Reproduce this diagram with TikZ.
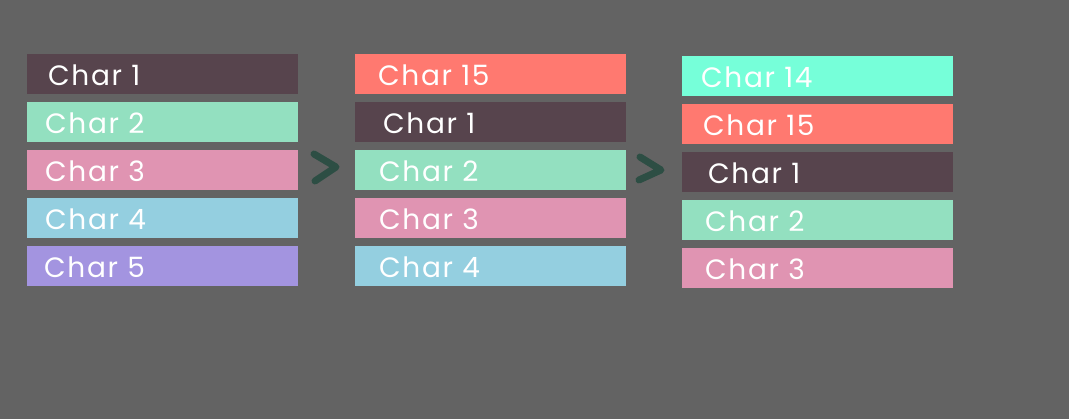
\documentclass[tikz,border=0pt]{standalone}
\usepackage{fontspec}
\setmainfont{Poppins}
\newfontfamily\handfont[LetterSpace=6]{Poppins}
\definecolor{bg}{HTML}{636363}
\definecolor{cdark}{HTML}{57444D}
\definecolor{cmint}{HTML}{93E0C0}
\definecolor{cpink}{HTML}{E094B2}
\definecolor{cblue}{HTML}{94CFE0}
\definecolor{cpurple}{HTML}{A394E0}
\definecolor{ccoral}{HTML}{FF7970}
\definecolor{caqua}{HTML}{76FFD9}
\definecolor{chev}{HTML}{2D4E44}
\tikzset{
  box/.style={rectangle, anchor=north west, minimum width=271pt, minimum height=40pt, inner sep=0pt, draw=none},
  lbl/.style={anchor=west, inner sep=0pt, text=white, font=\handfont\fontsize{28}{28}\selectfont},
  chevron/.style={draw=chev, line width=7pt, line cap=round, line join=round}
}
\begin{document}
\begin{tikzpicture}[x=1pt,y=-1pt]
\useasboundingbox[fill=bg] (0,0) rectangle (1069,419);
% column 1
\node[box, fill=cdark]   (a1) at (27,54)  {};
\node[box, fill=cmint]   (a2) at (27,102) {};
\node[box, fill=cpink]   (a3) at (27,150) {};
\node[box, fill=cblue]   (a4) at (27,198) {};
\node[box, fill=cpurple] (a5) at (27,246) {};
\node[lbl] (ta1) at ([xshift=21pt,yshift=-1pt]a1.west) {Char 1};
\node[lbl] (ta2) at ([xshift=18pt,yshift=-1pt]a2.west) {Char 2};
\node[lbl] (ta3) at ([xshift=18pt,yshift=-1pt]a3.west) {Char 3};
\node[lbl] (ta4) at ([xshift=18pt,yshift=-1pt]a4.west) {Char 4};
\node[lbl] (ta5) at ([xshift=17pt,yshift=-1pt]a5.west) {Char 5};
% column 2
\node[box, fill=ccoral]  (b1) at (355,54)  {};
\node[box, fill=cdark]   (b2) at (355,102) {};
\node[box, fill=cmint]   (b3) at (355,150) {};
\node[box, fill=cpink]   (b4) at (355,198) {};
\node[box, fill=cblue]   (b5) at (355,246) {};
\node[lbl] (tb1) at ([xshift=23pt,yshift=-1pt]b1.west) {Char 15};
\node[lbl] (tb2) at ([xshift=28pt,yshift=-1pt]b2.west) {Char 1};
\node[lbl] (tb3) at ([xshift=24pt,yshift=-1pt]b3.west) {Char 2};
\node[lbl] (tb4) at ([xshift=24pt,yshift=-1pt]b4.west) {Char 3};
\node[lbl] (tb5) at ([xshift=24pt,yshift=-1pt]b5.west) {Char 4};
% column 3
\node[box, fill=caqua]   (c1) at (682,56)  {};
\node[box, fill=ccoral]  (c2) at (682,104) {};
\node[box, fill=cdark]   (c3) at (682,152) {};
\node[box, fill=cmint]   (c4) at (682,200) {};
\node[box, fill=cpink]   (c5) at (682,248) {};
\node[lbl] (tc1) at ([xshift=19pt,yshift=-1pt]c1.west) {Char 14};
\node[lbl] (tc2) at ([xshift=21pt,yshift=-1pt]c2.west) {Char 15};
\node[lbl] (tc3) at ([xshift=26pt,yshift=-1pt]c3.west) {Char 1};
\node[lbl] (tc4) at ([xshift=23pt,yshift=-1pt]c4.west) {Char 2};
\node[lbl] (tc5) at ([xshift=23pt,yshift=-1pt]c5.west) {Char 3};
% chevrons
\coordinate (p1a) at (314,154);
\coordinate (p1b) at (336,167);
\coordinate (p1c) at (315,181);
\coordinate (p2a) at (640,157);
\coordinate (p2b) at (661,170);
\coordinate (p2c) at (639,180);
\draw[chevron] (p1a) -- (p1b) -- (p1c);
\draw[chevron] (p2a) -- (p2b) -- (p2c);
\end{tikzpicture}
\end{document}
